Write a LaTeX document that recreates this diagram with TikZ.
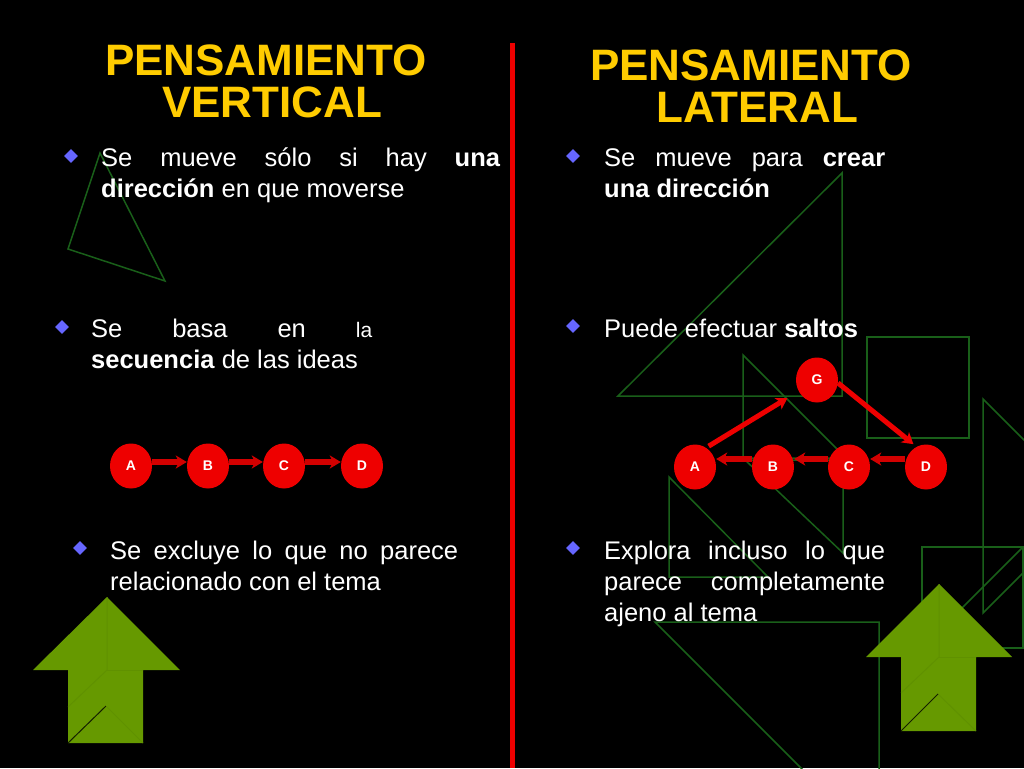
\documentclass[tikz,border=0pt]{standalone}
\usepackage{fontspec}
\setmainfont{Liberation Sans}
\usetikzlibrary{arrows.meta,shapes.geometric}
\setlength{\parindent}{0pt}
\tolerance=10000
\hbadness=10000

\definecolor{amarillo}{RGB}{255,204,0}
\definecolor{azul}{RGB}{102,102,255}
\definecolor{rojo}{RGB}{238,0,0}
\definecolor{rojoosc}{RGB}{210,0,0}
\definecolor{verde}{RGB}{25,95,25}
\definecolor{oliva}{RGB}{102,153,0}
\definecolor{olivaosc}{RGB}{96,145,0}

\tikzset{
  titulo/.style={font=\fontsize{44}{42}\selectfont\bfseries, text=amarillo, align=center, inner sep=0pt, anchor=north},
  texto/.style={font=\fontsize{25.5}{31}\selectfont, text=white, align=justify, inner sep=0pt, anchor=base west},
  vineta/.style={diamond, fill=azul, inner sep=0pt, minimum size=14pt},
  nodo/.style={ellipse, fill=rojo, minimum width=42pt, minimum height=45pt, inner sep=0pt, text=white, font=\fontsize{14}{14}\selectfont\bfseries},
  flecha/.style={-{Stealth[length=11pt,width=13pt,inset=3pt]}, line width=5.5pt, draw=rojoosc},
  salto/.style={flecha, draw=rojo, line width=5pt},
  linea/.style={draw=verde, line width=1.5pt},
  pliegue/.style={draw=olivaosc, line width=1pt}
}

\begin{document}
\begin{tikzpicture}[x=1pt,y=-1pt]
  \useasboundingbox (0,0) rectangle (1024,768);
  \fill[black] (0,0) rectangle (1024,768);
  \clip (0,0) rectangle (1024,768);

  % Fondo: figuras verdes
  \draw[linea] (100,153) -- (68,249) -- (165,281) -- cycle;
  \draw[linea] (842,173) -- (618,396) -- (842,396) -- cycle;
  \draw[linea] (867,337) rectangle (969,438);
  \draw[linea] (743,355) -- (743,458) -- (846,458) -- cycle;
  \draw[linea] (745,460) -- (843,460) -- (843,553) -- cycle;
  \draw[linea] (669,477) -- (669,577) -- (768,577) -- cycle;
  \draw[linea] (655,622) -- (879,622) -- (879,846) -- cycle;
  \draw[linea] (983,399) -- (983,613) -- (1090,506) -- cycle;
  \draw[linea] (922,547) rectangle (1023,648);
  \draw[linea] (1023,547) -- (922,648);

  % Flechas verdes
  \fill[oliva] (107,597) -- (180,670) -- (143,670) -- (143,743) -- (68,743) -- (68,670) -- (33,670) -- cycle;
  \draw[pliegue] (107,597) -- (107,670) -- (68,707);
  \draw[pliegue] (107,670) -- (143,670);
  \draw[pliegue] (107,707) -- (143,743);
  \draw[black!80!oliva, line width=1pt] (68,743) -- (106,706);
  \fill[oliva] (939,584) -- (1012,657) -- (976,657) -- (976,731) -- (901,731) -- (901,657) -- (866,657) -- cycle;
  \draw[pliegue] (939,584) -- (939,657) -- (901,693);
  \draw[pliegue] (939,657) -- (976,657);
  \draw[pliegue] (938,694) -- (976,731);
  \draw[black!80!oliva, line width=1pt] (901,731) -- (938,694);

  % Linea divisoria
  \draw[rojo, line width=5pt] (512,43) -- (512,768);

  % Titulos
  \node[titulo] (tizq) at (266,45) {PENSAMIENTO\\\hspace*{.28em}VERTICAL};
  \node[titulo] (tder) at (751,50) {PENSAMIENTO\\\hspace*{.28em}LATERAL};

  % Vinetas y textos
  \node[vineta] (v1) at (71,156) {};
  \node[texto, text width=399pt] (t1) at (101,166)
    {Se mueve sólo si hay \textbf{una}\linebreak \textbf{dirección} en que moverse};
  \node[vineta] (v2) at (62,327) {};
  \node[texto, text width=281pt] (t2) at (91,337)
    {Se basa en {\fontsize{21}{31}\selectfont la}\linebreak \textbf{secuencia} de las ideas};
  \node[vineta] (v3) at (80,548) {};
  \node[texto, text width=348pt] (t3) at (110,559)
    {Se excluye lo que no parece\linebreak relacionado con el tema};
  \node[vineta] (v4) at (573,156) {};
  \node[texto, text width=281pt] (t4) at (604,166)
    {Se mueve para \textbf{crear}\linebreak \textbf{una dirección}};
  \node[vineta] (v5) at (573,326) {};
  \node[texto, text width=281pt] (t5) at (604,337)
    {Puede efectuar \textbf{saltos}};
  \node[vineta] (v6) at (573,548) {};
  \node[texto, text width=281pt] (t6) at (604,559)
    {Explora incluso lo que\linebreak parece completamente\linebreak ajeno al tema};

  % Secuencia (izquierda)
  \node[nodo] (la) at (131,466) {A};
  \node[nodo] (lb) at (208,466) {B};
  \node[nodo] (lc) at (284,466) {C};
  \node[nodo] (ld) at (362,466) {D};
  \draw[flecha] ([yshift=4pt]la.east) -- ([yshift=4pt]lb.west);
  \draw[flecha] ([yshift=4pt]lb.east) -- ([yshift=4pt]lc.west);
  \draw[flecha] ([yshift=4pt]lc.east) -- ([yshift=4pt]ld.west);

  % Saltos (derecha)
  \node[nodo] (ra) at (695,467) {A};
  \node[nodo] (rb) at (773,467) {B};
  \node[nodo] (rc) at (849,467) {C};
  \node[nodo] (rd) at (926,467) {D};
  \node[nodo] (rg) at (817,380) {G};
  \draw[flecha] ([yshift=8pt]rb.west) -- ([yshift=8pt]ra.east);
  \draw[flecha] ([yshift=8pt]rc.west) -- ([yshift=8pt]rb.east);
  \draw[flecha] ([yshift=8pt]rd.west) -- ([yshift=8pt]rc.east);
  \draw[salto, shorten <=3pt, shorten >=13pt] (ra.60) -- (rg);
  \draw[salto, shorten >=4pt] (rg.-8) -- (rd.115);
\end{tikzpicture}
\end{document}
